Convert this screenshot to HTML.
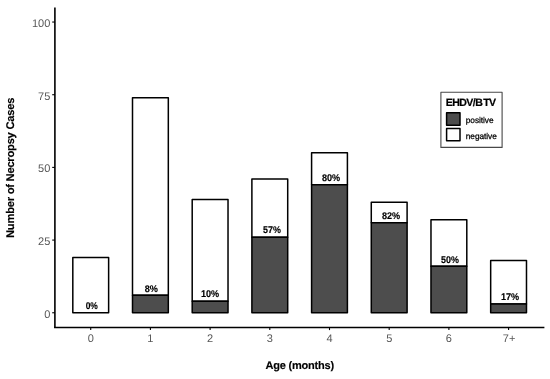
<!DOCTYPE html>
<html><head><meta charset="utf-8"><style>
html,body{margin:0;padding:0;background:#fff;}
svg{display:block;}
rect{stroke-linejoin:round;}
text{font-family:"Liberation Sans",Arial,sans-serif;text-rendering:geometricPrecision;}
.ax{font-size:11.0px;fill:#575757;}
.tt{font-size:11.0px;font-weight:bold;fill:#000;stroke:#000;stroke-width:0.15px;letter-spacing:-0.2px;}
.tty{font-size:11.2px;letter-spacing:-0.25px;}
.pct{font-size:9.7px;font-weight:bold;fill:#000;stroke:#000;stroke-width:0.15px;letter-spacing:0px;}
.lt{font-size:10.6px;font-weight:bold;fill:#000;stroke:#000;stroke-width:0.2px;letter-spacing:-0.6px;}
.lx{font-size:8.3px;fill:#000;stroke:#000;stroke-width:0.25px;letter-spacing:-0.06px;}
</style></head><body>
<svg width="550" height="379" viewBox="0 0 550 379">
<rect width="550" height="379" fill="#fff"/>
<rect x="72.81" y="257.53" width="35.82" height="55.24" fill="#fff" stroke="#000" stroke-width="1.5"/>
<rect x="132.50" y="97.63" width="35.82" height="197.69" fill="#fff" stroke="#000" stroke-width="1.5"/>
<rect x="132.50" y="295.32" width="35.82" height="17.44" fill="#4d4d4d" stroke="#000" stroke-width="1.5"/>
<rect x="192.20" y="199.38" width="35.82" height="101.75" fill="#fff" stroke="#000" stroke-width="1.5"/>
<rect x="192.20" y="301.13" width="35.82" height="11.63" fill="#4d4d4d" stroke="#000" stroke-width="1.5"/>
<rect x="251.89" y="179.03" width="35.82" height="58.15" fill="#fff" stroke="#000" stroke-width="1.5"/>
<rect x="251.89" y="237.17" width="35.82" height="75.59" fill="#4d4d4d" stroke="#000" stroke-width="1.5"/>
<rect x="311.59" y="152.86" width="35.82" height="31.98" fill="#fff" stroke="#000" stroke-width="1.5"/>
<rect x="311.59" y="184.84" width="35.82" height="127.92" fill="#4d4d4d" stroke="#000" stroke-width="1.5"/>
<rect x="371.28" y="202.29" width="35.82" height="20.35" fill="#fff" stroke="#000" stroke-width="1.5"/>
<rect x="371.28" y="222.64" width="35.82" height="90.13" fill="#4d4d4d" stroke="#000" stroke-width="1.5"/>
<rect x="430.98" y="219.73" width="35.82" height="46.52" fill="#fff" stroke="#000" stroke-width="1.5"/>
<rect x="430.98" y="266.25" width="35.82" height="46.52" fill="#4d4d4d" stroke="#000" stroke-width="1.5"/>
<rect x="490.67" y="260.43" width="35.82" height="43.61" fill="#fff" stroke="#000" stroke-width="1.5"/>
<rect x="490.67" y="304.04" width="35.82" height="8.72" fill="#4d4d4d" stroke="#000" stroke-width="1.5"/>
<text transform="translate(91.75,308.76) scale(0.870,1)" class="pct" text-anchor="middle">0%</text>
<text transform="translate(151.35,292.12) scale(0.940,1)" class="pct" text-anchor="middle">8%</text>
<text transform="translate(210.00,297.43) scale(0.940,1)" class="pct" text-anchor="middle">10%</text>
<text transform="translate(271.95,233.17) scale(0.920,1)" class="pct" text-anchor="middle">57%</text>
<text transform="translate(331.10,180.84) scale(0.940,1)" class="pct" text-anchor="middle">80%</text>
<text transform="translate(391.10,218.64) scale(0.940,1)" class="pct" text-anchor="middle">82%</text>
<text transform="translate(450.00,262.75) scale(0.920,1)" class="pct" text-anchor="middle">50%</text>
<text transform="translate(510.00,300.04) scale(0.940,1)" class="pct" text-anchor="middle">17%</text>
<line x1="54.90" y1="7.5" x2="54.90" y2="328.00" stroke="#000" stroke-width="1.6"/>
<line x1="54.10" y1="327.45" x2="544.40" y2="327.45" stroke="#000" stroke-width="1.35"/>
<line x1="52.20" y1="312.76" x2="54.90" y2="312.76" stroke="#000" stroke-width="1.1"/>
<text x="50.30" y="318.26" class="ax" text-anchor="end">0</text>
<line x1="52.20" y1="240.08" x2="54.90" y2="240.08" stroke="#000" stroke-width="1.1"/>
<text x="50.30" y="244.58" class="ax" text-anchor="end">25</text>
<line x1="52.20" y1="167.40" x2="54.90" y2="167.40" stroke="#000" stroke-width="1.1"/>
<text x="50.30" y="171.90" class="ax" text-anchor="end">50</text>
<line x1="52.20" y1="94.72" x2="54.90" y2="94.72" stroke="#000" stroke-width="1.1"/>
<text x="50.30" y="99.82" class="ax" text-anchor="end">75</text>
<line x1="52.20" y1="22.04" x2="54.90" y2="22.04" stroke="#000" stroke-width="1.1"/>
<text x="50.30" y="26.74" class="ax" text-anchor="end">100</text>
<line x1="90.72" y1="327.30" x2="90.72" y2="330.10" stroke="#000" stroke-width="1.1"/>
<text x="90.72" y="341.50" class="ax" text-anchor="middle">0</text>
<line x1="150.41" y1="327.30" x2="150.41" y2="330.10" stroke="#000" stroke-width="1.1"/>
<text x="150.41" y="341.50" class="ax" text-anchor="middle">1</text>
<line x1="210.11" y1="327.30" x2="210.11" y2="330.10" stroke="#000" stroke-width="1.1"/>
<text x="210.11" y="341.50" class="ax" text-anchor="middle">2</text>
<line x1="269.80" y1="327.30" x2="269.80" y2="330.10" stroke="#000" stroke-width="1.1"/>
<text x="269.80" y="341.50" class="ax" text-anchor="middle">3</text>
<line x1="329.50" y1="327.30" x2="329.50" y2="330.10" stroke="#000" stroke-width="1.1"/>
<text x="329.50" y="341.50" class="ax" text-anchor="middle">4</text>
<line x1="389.19" y1="327.30" x2="389.19" y2="330.10" stroke="#000" stroke-width="1.1"/>
<text x="389.19" y="341.50" class="ax" text-anchor="middle">5</text>
<line x1="448.89" y1="327.30" x2="448.89" y2="330.10" stroke="#000" stroke-width="1.1"/>
<text x="448.89" y="341.50" class="ax" text-anchor="middle">6</text>
<line x1="508.58" y1="327.30" x2="508.58" y2="330.10" stroke="#000" stroke-width="1.1"/>
<text x="509.08" y="341.50" class="ax" text-anchor="middle">7+</text>
<text x="299.65" y="369.4" class="tt" text-anchor="middle">Age (months)</text>
<text transform="translate(13.6,167.90) rotate(-90)" class="tt tty" text-anchor="middle">Number of Necropsy Cases</text>
<rect x="440.9" y="92.2" width="61.2" height="55.2" fill="#fff" stroke="#484848" stroke-width="1.1"/>
<text x="445.8" y="105.6" class="lt">EHDV/B<tspan dx="0.9">TV</tspan></text>
<rect x="446.6" y="112.8" width="13.4" height="12.4" fill="#4d4d4d" stroke="#000" stroke-width="1.5"/>
<rect x="446.6" y="128.4" width="13.4" height="12.4" fill="#fff" stroke="#000" stroke-width="1.5"/>
<text x="465.8" y="122.8" class="lx">positive</text>
<text x="465.8" y="138.6" class="lx">negative</text>
</svg>
</body></html>
